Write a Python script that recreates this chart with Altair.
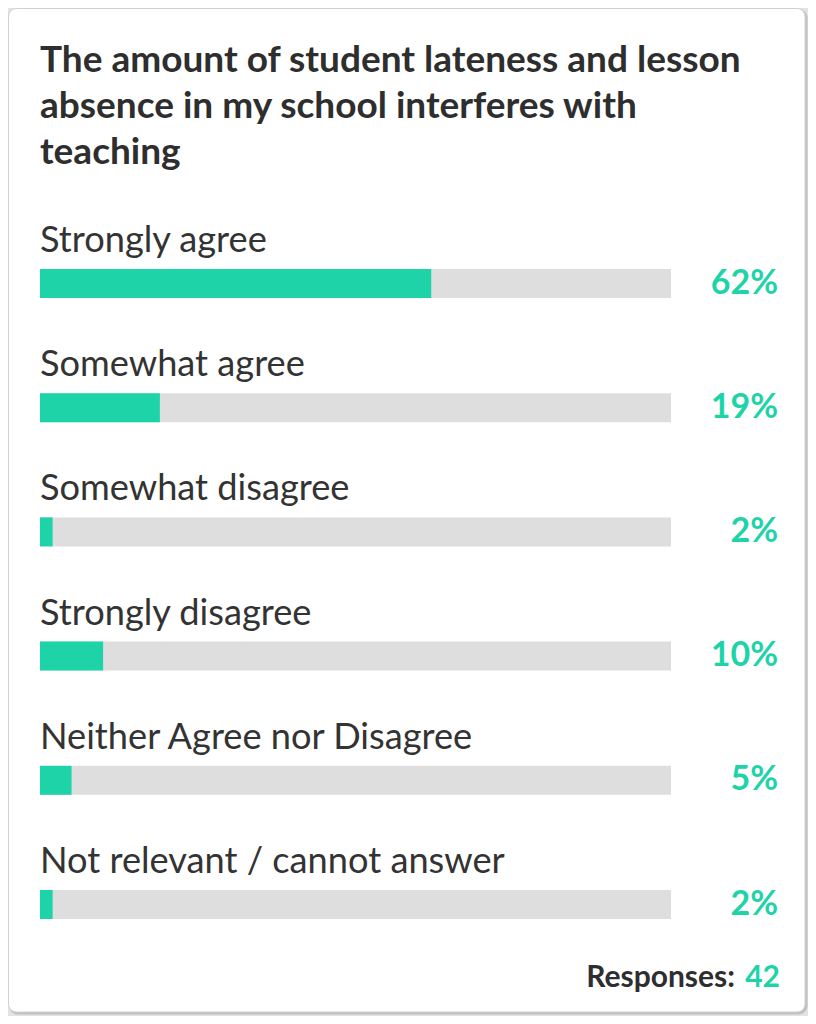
import altair as alt
import pandas as pd

# ---- data ----
title_lines = [
    "The amount of student lateness and lesson",
    "absence in my school interferes with",
    "teaching",
]
categories = [
    "Strongly agree",
    "Somewhat agree",
    "Somewhat disagree",
    "Strongly disagree",
    "Neither Agree nor Disagree",
    "Not relevant / cannot answer",
]
percents = [62, 19, 2, 10, 5, 2]
responses_label = "Responses:"
responses_count = "42"

GREEN = "#1fd3a8"
TRACK = "#dedede"
DARK = "#2e2e2e"
TEXT = "#333333"
FONT = "Lato"

df = pd.DataFrame({
    "category": categories,
    "value": percents,
    "full": [100] * len(categories),
    "start": [0] * len(categories),
    "label": [f"{p}%" for p in percents],
})
one = pd.DataFrame({"k": [0]})

xscale = alt.Scale(domain=[0, 100], range=[32, 663], nice=False, zero=True)
yscale = alt.Scale(type="band", domain=categories, range=[213.4, 958.6],
                   paddingInner=0, paddingOuter=0)

Y = alt.Y("category:N", scale=yscale, axis=None, sort=categories)

shadow = alt.Chart(one).mark_rect(cornerRadius=9, color="#c2c2c2").encode(
    x=alt.value(1), x2=alt.value(799.5), y=alt.value(1), y2=alt.value(1006.5)
)
card = alt.Chart(one).mark_rect(cornerRadius=8, color="white", stroke="#d0d0d0",
                                strokeWidth=1).encode(
    x=alt.value(0.5), x2=alt.value(797), y=alt.value(0.5), y2=alt.value(1004)
)

title = alt.Chart(one).mark_text(
    text=title_lines, align="left", baseline="alphabetic", font=FONT,
    fontSize=37, fontWeight="bold", color=DARK, lineHeight=46,
).encode(x=alt.value(32), y=alt.value(64))

track = alt.Chart(df).mark_bar(height=29, color=TRACK).encode(
    x=alt.X("start:Q", scale=xscale, axis=None), x2="full:Q", y=Y
)
fill = alt.Chart(df).mark_bar(height=29, color=GREEN).encode(
    x=alt.X("start:Q", scale=xscale, axis=None), x2="value:Q", y=Y
)
cat_text = alt.Chart(df).mark_text(
    align="left", baseline="alphabetic", dy=-31.5, font=FONT, fontSize=36.2,
    color=TEXT,
).encode(x=alt.X("start:Q", scale=xscale, axis=None), y=Y, text="category:N")
pct_text = alt.Chart(df).mark_text(
    align="right", baseline="middle", dx=107, font=FONT, fontSize=34,
    fontWeight="bold", color=GREEN,
).encode(x=alt.X("full:Q", scale=xscale, axis=None), y=Y, text="label:N")

resp1 = alt.Chart(one).mark_text(
    text=responses_label, align="right", baseline="alphabetic", font=FONT,
    fontSize=30, fontWeight="bold", color=DARK,
).encode(x=alt.value(727), y=alt.value(979))
resp2 = alt.Chart(one).mark_text(
    text=responses_count, align="right", baseline="alphabetic", font=FONT,
    fontSize=30, fontWeight="bold", color=GREEN,
).encode(x=alt.value(772), y=alt.value(979))

chart = alt.layer(
    shadow, card, title, track, fill, cat_text, pct_text, resp1, resp2
).properties(
    width=800, height=1008, autosize=alt.AutoSizeParams(type="none"),
    padding=0, background="#e3e3e3",
).configure_view(strokeWidth=0)

chart.save("out.html", embed_options={"renderer": "svg", "actions": False})
